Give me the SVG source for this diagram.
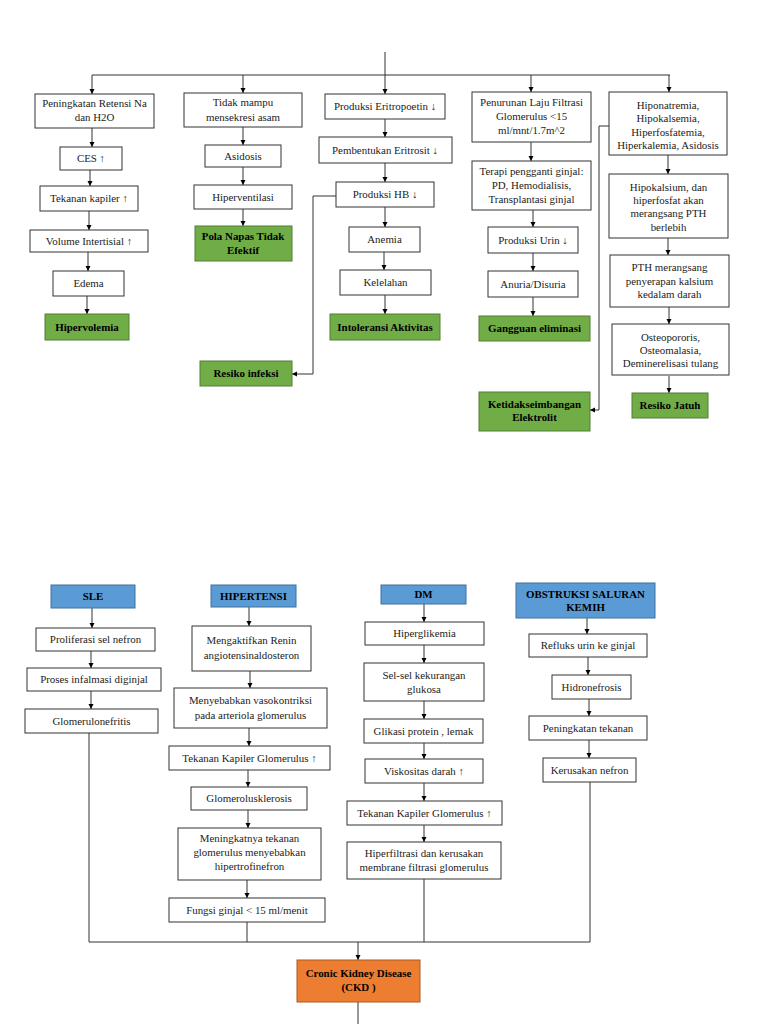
<svg xmlns="http://www.w3.org/2000/svg" width="768" height="1024" viewBox="0 0 768 1024">
<style>
.b{fill:#fff;stroke:#333;stroke-width:1}
.g{fill:#70AD47;stroke:#507E32;stroke-width:1}
.bl{fill:#5B9BD5;stroke:#41719C;stroke-width:1}
.o{fill:#ED7D31;stroke:#AE5A21;stroke-width:1}
text{font-family:"Liberation Serif","Times New Roman",serif;font-size:10.9px;fill:#222;text-anchor:middle}
.t{font-weight:bold;fill:#000}
.c line,.c polyline{stroke:#333;stroke-width:1;fill:none}
.a{marker-end:url(#ar)}
</style>
<defs>
<marker id="ar" markerUnits="userSpaceOnUse" markerWidth="6" markerHeight="6" refX="5" refY="3" orient="auto">
<path d="M0,0.5 L5,3 L0,5.5 z" fill="#000"/>
</marker>
</defs>
<rect width="768" height="1024" fill="#fff"/>

<g class="c" id="connectors">
<line x1="385" y1="52" x2="385" y2="94" class="a"/>
<line x1="92" y1="75" x2="670" y2="75"/>
<line x1="92" y1="75" x2="92" y2="94" class="a"/>
<line x1="243" y1="75" x2="243" y2="93" class="a"/>
<line x1="531" y1="75" x2="531" y2="92" class="a"/>
<line x1="669" y1="75" x2="669" y2="92" class="a"/>
<line x1="92" y1="128" x2="92" y2="147" class="a"/>
<line x1="90" y1="170" x2="90" y2="186" class="a"/>
<line x1="89" y1="211" x2="89" y2="230" class="a"/>
<line x1="88" y1="252" x2="88" y2="271" class="a"/>
<line x1="87" y1="296" x2="87" y2="314" class="a"/>
<line x1="243" y1="127" x2="243" y2="145" class="a"/>
<line x1="243" y1="167" x2="243" y2="185" class="a"/>
<line x1="243" y1="209" x2="243" y2="226" class="a"/>
<line x1="385" y1="119" x2="385" y2="137" class="a"/>
<line x1="385" y1="163" x2="385" y2="182" class="a"/>
<line x1="385" y1="207" x2="385" y2="227" class="a"/>
<line x1="384" y1="252" x2="384" y2="270" class="a"/>
<line x1="385" y1="295" x2="385" y2="314" class="a"/>
<polyline points="336,196 313,196 313,374 292,374" class="a"/>
<line x1="531" y1="142" x2="531" y2="161" class="a"/>
<line x1="533" y1="210" x2="533" y2="227" class="a"/>
<line x1="533" y1="253" x2="533" y2="271" class="a"/>
<line x1="533" y1="297" x2="533" y2="316" class="a"/>
<polyline points="609,126 599,126 599,410 590,410" class="a"/>
<line x1="668" y1="155" x2="668" y2="174" class="a"/>
<line x1="668" y1="238" x2="668" y2="255" class="a"/>
<line x1="669" y1="307" x2="669" y2="324" class="a"/>
<line x1="669" y1="376" x2="669" y2="393" class="a"/>

<line x1="92" y1="608" x2="92" y2="628" class="a"/>
<line x1="91" y1="651" x2="91" y2="668" class="a"/>
<line x1="91" y1="691" x2="91" y2="709" class="a"/>
<line x1="89" y1="733" x2="89" y2="942"/>
<line x1="249" y1="607" x2="249" y2="626" class="a"/>
<line x1="250" y1="671" x2="250" y2="688" class="a"/>
<line x1="249" y1="728" x2="249" y2="746" class="a"/>
<line x1="248" y1="770" x2="248" y2="787" class="a"/>
<line x1="248" y1="810" x2="248" y2="828" class="a"/>
<line x1="247" y1="880" x2="247" y2="898" class="a"/>
<line x1="247" y1="922" x2="247" y2="942"/>
<line x1="424" y1="604" x2="424" y2="622" class="a"/>
<line x1="424" y1="645" x2="424" y2="663" class="a"/>
<line x1="424" y1="701" x2="424" y2="719" class="a"/>
<line x1="424" y1="743" x2="424" y2="759" class="a"/>
<line x1="424" y1="783" x2="424" y2="801" class="a"/>
<line x1="424" y1="825" x2="424" y2="842" class="a"/>
<line x1="424" y1="879" x2="424" y2="942"/>
<line x1="587" y1="618" x2="587" y2="634" class="a"/>
<line x1="588" y1="657" x2="588" y2="675" class="a"/>
<line x1="589" y1="699" x2="589" y2="716" class="a"/>
<line x1="589" y1="740" x2="589" y2="758" class="a"/>
<line x1="590" y1="782" x2="590" y2="942"/>
<line x1="89" y1="942" x2="590" y2="942"/>
<line x1="358" y1="942" x2="358" y2="960" class="a"/>
<line x1="358" y1="1002" x2="358" y2="1024"/>
</g>

<g id="n1"><rect class="b" x="35" y="94" width="119" height="34"/><text x="94.5" y="107">Peningkatan Retensi Na</text><text x="94.5" y="121">dan H2O</text></g>
<g id="n2"><rect class="b" x="60" y="147" width="62" height="23"/><text x="91" y="162">CES ↑</text></g>
<g id="n3"><rect class="b" x="40" y="186" width="98" height="25"/><text x="89" y="202">Tekanan kapiler ↑</text></g>
<g id="n4"><rect class="b" x="30" y="230" width="118" height="22"/><text x="89" y="245">Volume Intertisial ↑</text></g>
<g id="n5"><rect class="b" x="53" y="271" width="71" height="25"/><text x="88.5" y="287">Edema</text></g>
<g id="n6"><rect class="g" x="45" y="314" width="84" height="26"/><text class="t" x="87" y="331">Hipervolemia</text></g>

<g id="n7"><rect class="b" x="184" y="93" width="118" height="34"/><text x="243" y="106">Tidak mampu</text><text x="243" y="121">mensekresi asam</text></g>
<g id="n8"><rect class="b" x="205" y="145" width="76" height="22"/><text x="243" y="160">Asidosis</text></g>
<g id="n9"><rect class="b" x="194" y="185" width="98" height="24"/><text x="243" y="201">Hiperventilasi</text></g>
<g id="n10"><rect class="g" x="195" y="226" width="97" height="35"/><text class="t" x="243" y="240">Pola Napas Tidak</text><text class="t" x="243" y="254">Efektif</text></g>

<g id="n11"><rect class="b" x="325" y="94" width="120" height="25"/><text x="385" y="110">Produksi Eritropoetin ↓</text></g>
<g id="n12"><rect class="b" x="319" y="137" width="133" height="26"/><text x="385" y="154">Pembentukan Eritrosit ↓</text></g>
<g id="n13"><rect class="b" x="336" y="182" width="98" height="25"/><text x="385" y="198">Produksi HB ↓</text></g>
<g id="n14"><rect class="b" x="349" y="227" width="71" height="25"/><text x="384.5" y="243">Anemia</text></g>
<g id="n15"><rect class="b" x="340" y="270" width="91" height="25"/><text x="385.5" y="286">Kelelahan</text></g>
<g id="n16"><rect class="g" x="330" y="314" width="110" height="26"/><text class="t" x="385" y="331">Intoleransi Aktivitas</text></g>
<g id="n17"><rect class="g" x="200" y="361" width="92" height="25"/><text class="t" x="246" y="377">Resiko infeksi</text></g>

<g id="n18"><rect class="b" x="472" y="92" width="119" height="50"/><text x="531.5" y="106">Penurunan Laju Filtrasi</text><text x="531.5" y="120">Glomerulus &lt;15</text><text x="531.5" y="134">ml/mnt/1.7m^2</text></g>
<g id="n19"><rect class="b" x="472" y="161" width="119" height="49"/><text x="531.5" y="175">Terapi pengganti ginjal:</text><text x="531.5" y="189">PD, Hemodialisis,</text><text x="531.5" y="203">Transplantasi ginjal</text></g>
<g id="n20"><rect class="b" x="488" y="227" width="90" height="26"/><text x="533" y="244">Produksi Urin ↓</text></g>
<g id="n21"><rect class="b" x="488" y="271" width="90" height="26"/><text x="533" y="288">Anuria/Disuria</text></g>
<g id="n22"><rect class="g" x="479" y="316" width="111" height="25"/><text class="t" x="534.5" y="332">Gangguan eliminasi</text></g>
<g id="n23"><rect class="g" x="479" y="392" width="111" height="39"/><text class="t" x="534.5" y="408">Ketidakseimbangan</text><text class="t" x="534.5" y="421">Elektrolit</text></g>

<g id="n24"><rect class="b" x="609" y="92" width="118" height="63"/><text x="668" y="109">Hiponatremia,</text><text x="668" y="122">Hipokalsemia,</text><text x="668" y="136">Hiperfosfatemia,</text><text x="668" y="149">Hiperkalemia, Asidosis</text></g>
<g id="n25"><rect class="b" x="609" y="174" width="119" height="64"/><text x="668.5" y="191">Hipokalsium, dan</text><text x="668.5" y="204">hiperfosfat akan</text><text x="668.5" y="217">merangsang PTH</text><text x="668.5" y="231">berlebih</text></g>
<g id="n26"><rect class="b" x="610" y="255" width="119" height="52"/><text x="669.5" y="271">PTH merangsang</text><text x="669.5" y="285">penyerapan kalsium</text><text x="669.5" y="298">kedalam darah</text></g>
<g id="n27"><rect class="b" x="612" y="324" width="117" height="51"/><text x="670.5" y="341">Osteopororis,</text><text x="670.5" y="354">Osteomalasia,</text><text x="670.5" y="367">Deminerelisasi tulang</text></g>
<g id="n28"><rect class="g" x="632" y="393" width="76" height="25"/><text class="t" x="670" y="409">Resiko Jatuh</text></g>

<g id="n29"><rect class="bl" x="51" y="585" width="84" height="23"/><text class="t" x="93" y="600">SLE</text></g>
<g id="n30"><rect class="b" x="36" y="628" width="119" height="23"/><text x="95.5" y="643">Proliferasi sel nefron</text></g>
<g id="n31"><rect class="b" x="27" y="668" width="134" height="23"/><text x="94" y="683">Proses infalmasi diginjal</text></g>
<g id="n32"><rect class="b" x="25" y="709" width="133" height="24"/><text x="91.5" y="725">Glomerulonefritis</text></g>

<g id="n33"><rect class="bl" x="211" y="585" width="85" height="22"/><text class="t" x="253.5" y="600">HIPERTENSI</text></g>
<g id="n34"><rect class="b" x="192" y="626" width="119" height="45"/><text x="251.5" y="644">Mengaktifkan Renin</text><text x="251.5" y="659">angiotensinaldosteron</text></g>
<g id="n35"><rect class="b" x="174" y="688" width="153" height="40"/><text x="250.5" y="704">Menyebabkan vasokontriksi</text><text x="250.5" y="719">pada arteriola glomerulus</text></g>
<g id="n36"><rect class="b" x="169" y="746" width="161" height="24"/><text x="249.5" y="762">Tekanan Kapiler Glomerulus ↑</text></g>
<g id="n37"><rect class="b" x="191" y="787" width="116" height="23"/><text x="249" y="802">Glomerolusklerosis</text></g>
<g id="n38"><rect class="b" x="178" y="828" width="143" height="52"/><text x="249.5" y="842">Meningkatnya tekanan</text><text x="249.5" y="856">glomerulus menyebabkan</text><text x="249.5" y="870">hipertrofinefron</text></g>
<g id="n39"><rect class="b" x="169" y="898" width="156" height="24"/><text x="247" y="914">Fungsi ginjal &lt; 15 ml/menit</text></g>

<g id="n40"><rect class="bl" x="381" y="585" width="85" height="19"/><text class="t" x="423.5" y="598">DM</text></g>
<g id="n41"><rect class="b" x="365" y="622" width="119" height="23"/><text x="424.5" y="637">Hiperglikemia</text></g>
<g id="n42"><rect class="b" x="364" y="663" width="120" height="38"/><text x="424" y="679">Sel-sel kekurangan</text><text x="424" y="693">glukosa</text></g>
<g id="n43"><rect class="b" x="364" y="719" width="119" height="24"/><text x="423.5" y="735">Glikasi protein , lemak</text></g>
<g id="n44"><rect class="b" x="365" y="759" width="118" height="24"/><text x="424" y="775">Viskositas darah ↑</text></g>
<g id="n45"><rect class="b" x="347" y="801" width="155" height="24"/><text x="424.5" y="817">Tekanan Kapiler Glomerulus ↑</text></g>
<g id="n46"><rect class="b" x="347" y="842" width="154" height="37"/><text x="424" y="857">Hiperfiltrasi dan kerusakan</text><text x="424" y="871">membrane filtrasi glomerulus</text></g>

<g id="n47"><rect class="bl" x="516" y="583" width="139" height="35"/><text class="t" x="585.5" y="598">OBSTRUKSI SALURAN</text><text class="t" x="585.5" y="611">KEMIH</text></g>
<g id="n48"><rect class="b" x="529" y="634" width="118" height="23"/><text x="588" y="649">Refluks urin ke ginjal</text></g>
<g id="n49"><rect class="b" x="552" y="675" width="79" height="24"/><text x="591.5" y="691">Hidronefrosis</text></g>
<g id="n50"><rect class="b" x="529" y="716" width="118" height="24"/><text x="588" y="732">Peningkatan tekanan</text></g>
<g id="n51"><rect class="b" x="543" y="758" width="93" height="24"/><text x="589.5" y="774">Kerusakan nefron</text></g>

<g id="n52"><rect class="o" x="297" y="960" width="123" height="42"/><text class="t" x="358.5" y="977">Cronic Kidney Disease</text><text class="t" x="358.5" y="991">(CKD )</text></g>
</svg>
